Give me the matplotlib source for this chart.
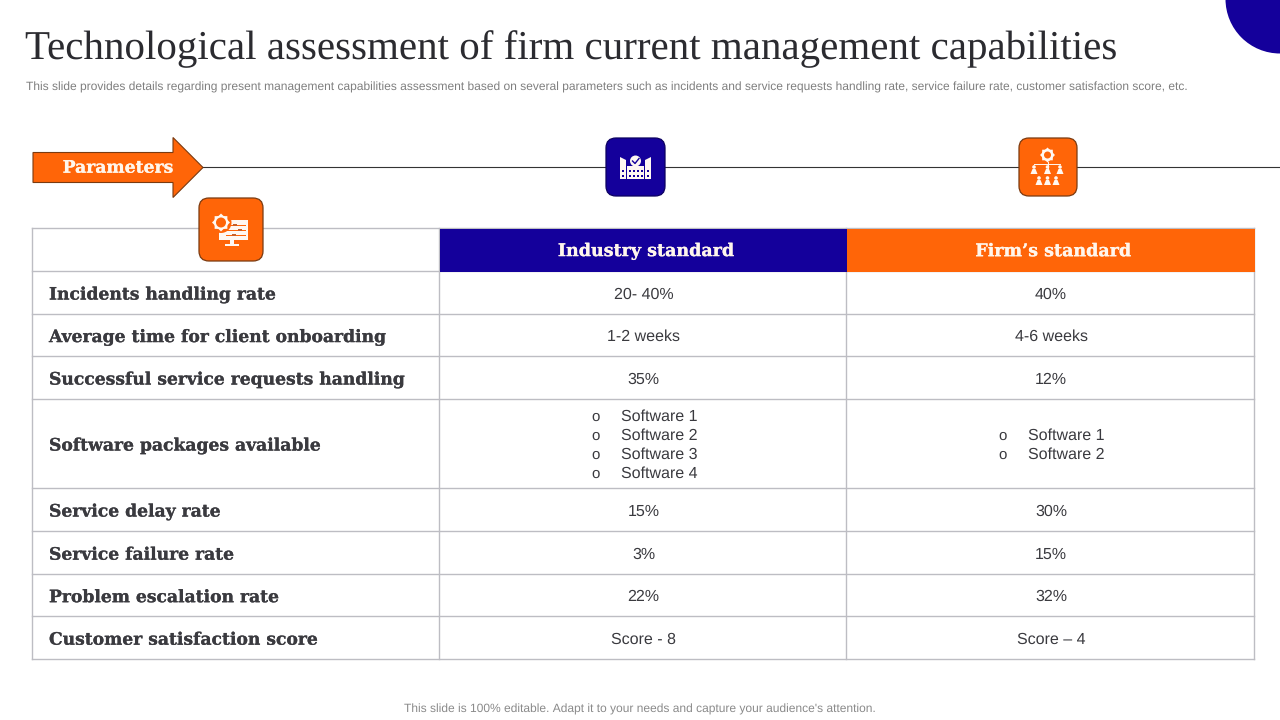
import matplotlib
matplotlib.use("Agg")
import matplotlib.pyplot as plt
import matplotlib.patheffects as pe
from matplotlib.patches import Rectangle, FancyBboxPatch, Polygon, Circle, RegularPolygon

plt.rcParams["text.hinting"] = "no_hinting"
plt.rcParams["text.hinting_factor"] = 1

TITLE = "Technological assessment of firm current management capabilities"
SUBTITLE = ("This slide provides details regarding present management capabilities assessment based on several "
            "parameters such as incidents and service requests handling rate, service failure rate, customer "
            "satisfaction score, etc.")
FOOTER = "This slide is 100% editable. Adapt it to your needs and capture your audience's attention."
HEADERS = ["Industry standard", "Firm\u2019s standard"]
PARAMS = ["Incidents handling rate", "Average time for client onboarding",
          "Successful service requests handling", "Software packages available",
          "Service delay rate", "Service failure rate", "Problem escalation rate",
          "Customer satisfaction score"]
INDUSTRY = ["20- 40%", "1-2 weeks", "35%", ["Software 1", "Software 2", "Software 3", "Software 4"],
            "15%", "3%", "22%", "Score - 8"]
FIRM = ["40%", "4-6 weeks", "12%", ["Software 1", "Software 2"], "30%", "15%", "32%", "Score \u2013 4"]

NAVY = "#14009B"
ORANGE = "#FF6508"
EDGE = "#7A3A10"
GRID = "#BDBDC3"
DARK = "#3A3A3F"
SERIF = "DejaVu Serif"
SANS = "Liberation Sans"

row_y = [229, 272, 315, 357, 400, 489, 532, 575, 617, 660]
col_x = [33, 440, 847, 1255]

fig = plt.figure(figsize=(12.8, 7.2), dpi=100)
ax = fig.add_axes([0, 0, 1, 1])
ax.set_xlim(0, 1280)
ax.set_ylim(720, 0)
ax.axis("off")

ax.add_patch(Circle((1280, -1), 54.5, fc=NAVY, ec="none", zorder=1))
ax.text(25, 59, TITLE, family="Liberation Serif", fontsize=29.66, color="#2B2B30", va="baseline", ha="left")
ax.text(26, 87, SUBTITLE, family=SANS, fontsize=8.65, color="#7F7F7F", va="center", ha="left")
ax.text(640, 709, FOOTER, family=SANS, fontsize=8.86, color="#8A8A8A", va="center", ha="center")

# timeline + arrow
ax.plot([203, 1280], [167.5, 167.5], color="#333333", lw=0.8, zorder=1, snap=False)
ax.add_patch(Polygon([(33, 152.5), (173, 152.5), (173, 137.5), (203, 167.5), (173, 197.5), (173, 182.5), (33, 182.5)],
                     closed=True, fc=ORANGE, ec=EDGE, lw=0.8, zorder=2))
HEAVY_W = [pe.withStroke(linewidth=0.15, foreground="#FFF6EC")]
HEAVY_D = [pe.withStroke(linewidth=0.15, foreground=DARK)]
ax.text(117.5, 168, "Parameters", family=SERIF, weight="bold", fontsize=12.4, color="#FFF6EC",
        va="center", ha="center", zorder=3, path_effects=HEAVY_W)

# table
ax.add_patch(Rectangle((col_x[1], row_y[0]), col_x[2] - col_x[1], row_y[1] - row_y[0], fc=NAVY, ec="none", zorder=2))
ax.add_patch(Rectangle((col_x[2], row_y[0]), col_x[3] - col_x[2], row_y[1] - row_y[0], fc=ORANGE, ec="none", zorder=2))
for y in row_y:
    ax.plot([col_x[0] - 0.5, col_x[3] - 0.5], [y - 0.5, y - 0.5], color=GRID, lw=1.0, zorder=1.5, snap=False)
for x in col_x:
    ax.plot([x - 0.5, x - 0.5], [row_y[0] - 0.5, row_y[-1] - 0.5], color=GRID, lw=1.0, zorder=1.5, snap=False)

for i, h in enumerate(HEADERS):
    ax.text((col_x[i + 1] + col_x[i + 2]) / 2, (row_y[0] + row_y[1]) / 2 + 1, h, family=SERIF, weight="bold",
            fontsize=12.6, color="#FFF6EC", va="center", ha="center", zorder=3, path_effects=HEAVY_W)

LINE = 19
def cell(cx, yc, val):
    if isinstance(val, list):
        n = len(val)
        for k, s in enumerate(val):
            y = yc + (k - (n - 1) / 2) * LINE + 1
            ax.text(cx - 48, y, "o", family=SANS, fontsize=11, color=DARK, va="center", ha="center")
            ax.text(cx - 22.5, y, s, family=SANS, fontsize=11.6, color=DARK, va="center", ha="left")
    else:
        ax.text(cx, yc + 1, val, family=SANS, fontsize=11.6, color=DARK, va="center", ha="center")

for r, p in enumerate(PARAMS):
    yc = (row_y[r + 1] + row_y[r + 2]) / 2
    ax.text(49, yc + 1.5, p, family=SERIF, weight="bold", fontsize=12.35, color=DARK, va="center", ha="left",
            path_effects=HEAVY_D)
    cell((col_x[1] + col_x[2]) / 2, yc, INDUSTRY[r])
    cell((col_x[2] + col_x[3]) / 2, yc, FIRM[r])

# icon tiles
def tile(x0, y0, w, h, col, edge):
    ax.add_patch(FancyBboxPatch((x0 + 9, y0 + 9), w - 18, h - 18, boxstyle="round,pad=9,rounding_size=10",
                                fc=col, ec=edge, lw=0.9, zorder=4))

WHITE = "#FFF8F2"
def R(x, y, w, h, c=WHITE):
    ax.add_patch(Rectangle((x, y), w, h, fc=c, ec="none", zorder=5))

def gear(cx, cy, r, hole, halo=None):
    if halo:
        ax.add_patch(Circle((cx, cy), halo, fc=ORANGE, ec="none", zorder=6))
    ax.add_patch(RegularPolygon((cx, cy), 4, radius=r, orientation=0, fc=WHITE, ec="none", zorder=6))
    ax.add_patch(RegularPolygon((cx, cy), 4, radius=r, orientation=0.785, fc=WHITE, ec="none", zorder=6))
    ax.add_patch(Circle((cx, cy), r * 0.78, fc=WHITE, ec="none", zorder=6))
    ax.add_patch(Circle((cx, cy), hole, fc=ORANGE, ec="none", zorder=6))

# gear + monitor
tile(199, 198, 64, 63, ORANGE, EDGE)
R(219, 220, 29, 20)
for y_, x_ in zip((225, 230, 235), (233, 238, 232)):
    R(226, y_, 20, 1, ORANGE)
    R(x_, y_ - 1, 4, 2.4, "#C8602A")
R(230, 240, 4, 4)
R(225, 244, 14, 1.8)
gear(221, 222.5, 9, 5, halo=10.5)

# factory
tile(606, 138, 59, 58, NAVY, "#0C0060")
R(620, 162, 6, 17)
R(645, 162, 6, 17)
R(627, 166, 17, 13)
ax.add_patch(Polygon([(620, 162), (620, 157), (626, 160), (626, 162)], fc=WHITE, ec="none", zorder=5))
ax.add_patch(Polygon([(651, 162), (651, 157), (645, 160), (645, 162)], fc=WHITE, ec="none", zorder=5))
ax.add_patch(Circle((635.5, 161), 5.5, fc=WHITE, ec="none", zorder=5))
ax.plot([632.5, 635, 639], [161, 163.5, 158.5], color=NAVY, lw=1, zorder=6)
for yy in (169.5, 174.5):
    for xx in (621.5, 628.5, 632.5, 636.5, 640.5, 646.5):
        R(xx, yy, 2.6, 2.6, NAVY)

# hierarchy
tile(1019, 138, 58, 58, ORANGE, EDGE)
gear(1047.5, 155, 7.5, 3.5)
ax.plot([1047.5, 1047.5], [162, 170], color=WHITE, lw=0.7, zorder=5)
ax.plot([1034, 1060], [163.5, 163.5], color=WHITE, lw=0.7, zorder=5)
for cx_, cy_ in ((1034, 170), (1047.5, 170), (1060, 170), (1039, 181), (1047.5, 181), (1056, 181)):
    ax.add_patch(Polygon([(cx_ - 3.5, cy_ + 4), (cx_ - 1.5, cy_ - 1), (cx_ + 1.5, cy_ - 1), (cx_ + 3.5, cy_ + 4)],
                         fc=WHITE, ec="none", zorder=5))
    ax.add_patch(Circle((cx_, cy_ - 3), 1.8, fc=WHITE, ec="none", zorder=5))

fig.savefig("out.png", dpi=100, facecolor="white")
